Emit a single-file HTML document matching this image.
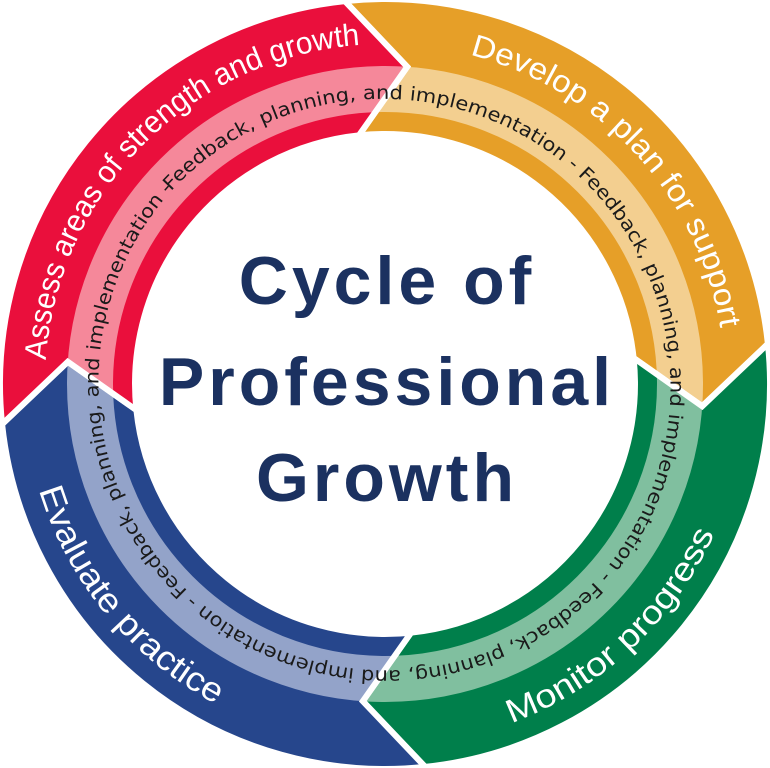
<!DOCTYPE html>
<html><head><meta charset="utf-8"><style>
html,body{margin:0;padding:0;background:#fff;width:770px;height:768px;overflow:hidden}
</style></head><body>
<svg id="s" width="770" height="768" viewBox="0 0 770 768" xmlns="http://www.w3.org/2000/svg">
<defs id="d"></defs>
<g id="g"></g>
<g font-family="Liberation Sans, sans-serif" font-weight="bold" fill="#1b3160" text-anchor="middle" font-size="68" letter-spacing="4">
<text x="387" y="304">Cycle of</text>
<text x="387" y="405">Professional</text>
<text x="387" y="501">Growth</text>
</g>
</svg>
<script>
var cx=385,cy=384,R=385,rt=318,rl=272,ri=250;
function P(r,a){a=a*Math.PI/180;return (cx+r*Math.sin(a)).toFixed(1)+','+(cy-r*Math.cos(a)).toFixed(1);}
var b=[-6,84,174,264,354];
var dark=['#e69f28','#007f4b','#26468c','#ea0f3c'];
var light=['#f3cf90','#80bf9f','#93a3c9','#f5889a'];
var d=document.getElementById('d'),g=document.getElementById('g'),h='',dh='';
for(var k=0;k<4;k++){
 var a0=b[k],a1=b[k+1];
 var p='M'+P(R,a0)+' A'+R+' '+R+' 0 0 1 '+P(R,a1)+' L'+P(rt,a1+10)+' L'+P(ri,a1)+' A'+ri+' '+ri+' 0 0 0 '+P(ri,a0)+' L'+P(rt,a0+10)+' Z';
 dh+='<clipPath id="c'+k+'"><path d="'+p+'"/></clipPath>';
 h+='<path d="'+p+'" fill="'+dark[k]+'"/>';
 h+='<g clip-path="url(#c'+k+')"><circle cx="'+cx+'" cy="'+cy+'" r="'+((rt+rl)/2)+'" fill="none" stroke="'+light[k]+'" stroke-width="'+(rt-rl)+'"/></g>';
 h+='<path d="'+p+'" fill="none" stroke="#fff" stroke-width="6" stroke-linejoin="miter"/>';
}
function arcCW(r,a0,a1){return 'M'+P(r,a0)+' A'+r+' '+r+' 0 0 1 '+P(r,a1);}
function arcCCW(r,a0,a1){return 'M'+P(r,a0)+' A'+r+' '+r+' 0 0 0 '+P(r,a1);}
dh+='<path id="t0" d="'+arcCW(340,262,360)+'"/>';
dh+='<path id="t1" d="'+arcCW(340,0,95)+'"/>';
dh+='<path id="t2" d="'+arcCCW(362,185,85)+'"/>';
dh+='<path id="t3" d="'+arcCCW(362,300,180)+'"/>';
dh+='<path id="tl" d="'+arcCW(288,312,132)+' A288 288 0 0 1 '+P(288,311.9)+'"/>';
d.innerHTML=dh;
var lab=[['t0','Assess areas of strength and growth',54,485,31],['t1','Develop a plan for support',50,392,31],['t2','Monitor progress',48,285,33],['t3','Evaluate practice',58,285,34]];
h+='<g font-family="Liberation Sans, sans-serif" fill="#fff">';
lab.forEach(function(l){h+='<text font-size="'+l[4]+'"><textPath href="#'+l[0]+'" startOffset="'+l[2]+'%" text-anchor="middle" textLength="'+l[3]+'" lengthAdjust="spacingAndGlyphs">'+l[1]+'</textPath></text>';});
h+='</g>';
var ph='Feedback, planning, and implementation  -  ';
h+='<text font-family="DejaVu Sans, sans-serif" font-size="19" fill="#1a1a1a"><textPath href="#tl" textLength="1800" lengthAdjust="spacingAndGlyphs">'+ph+ph+ph+ph+'</textPath></text>';
g.innerHTML=h;
</script>
</body></html>
